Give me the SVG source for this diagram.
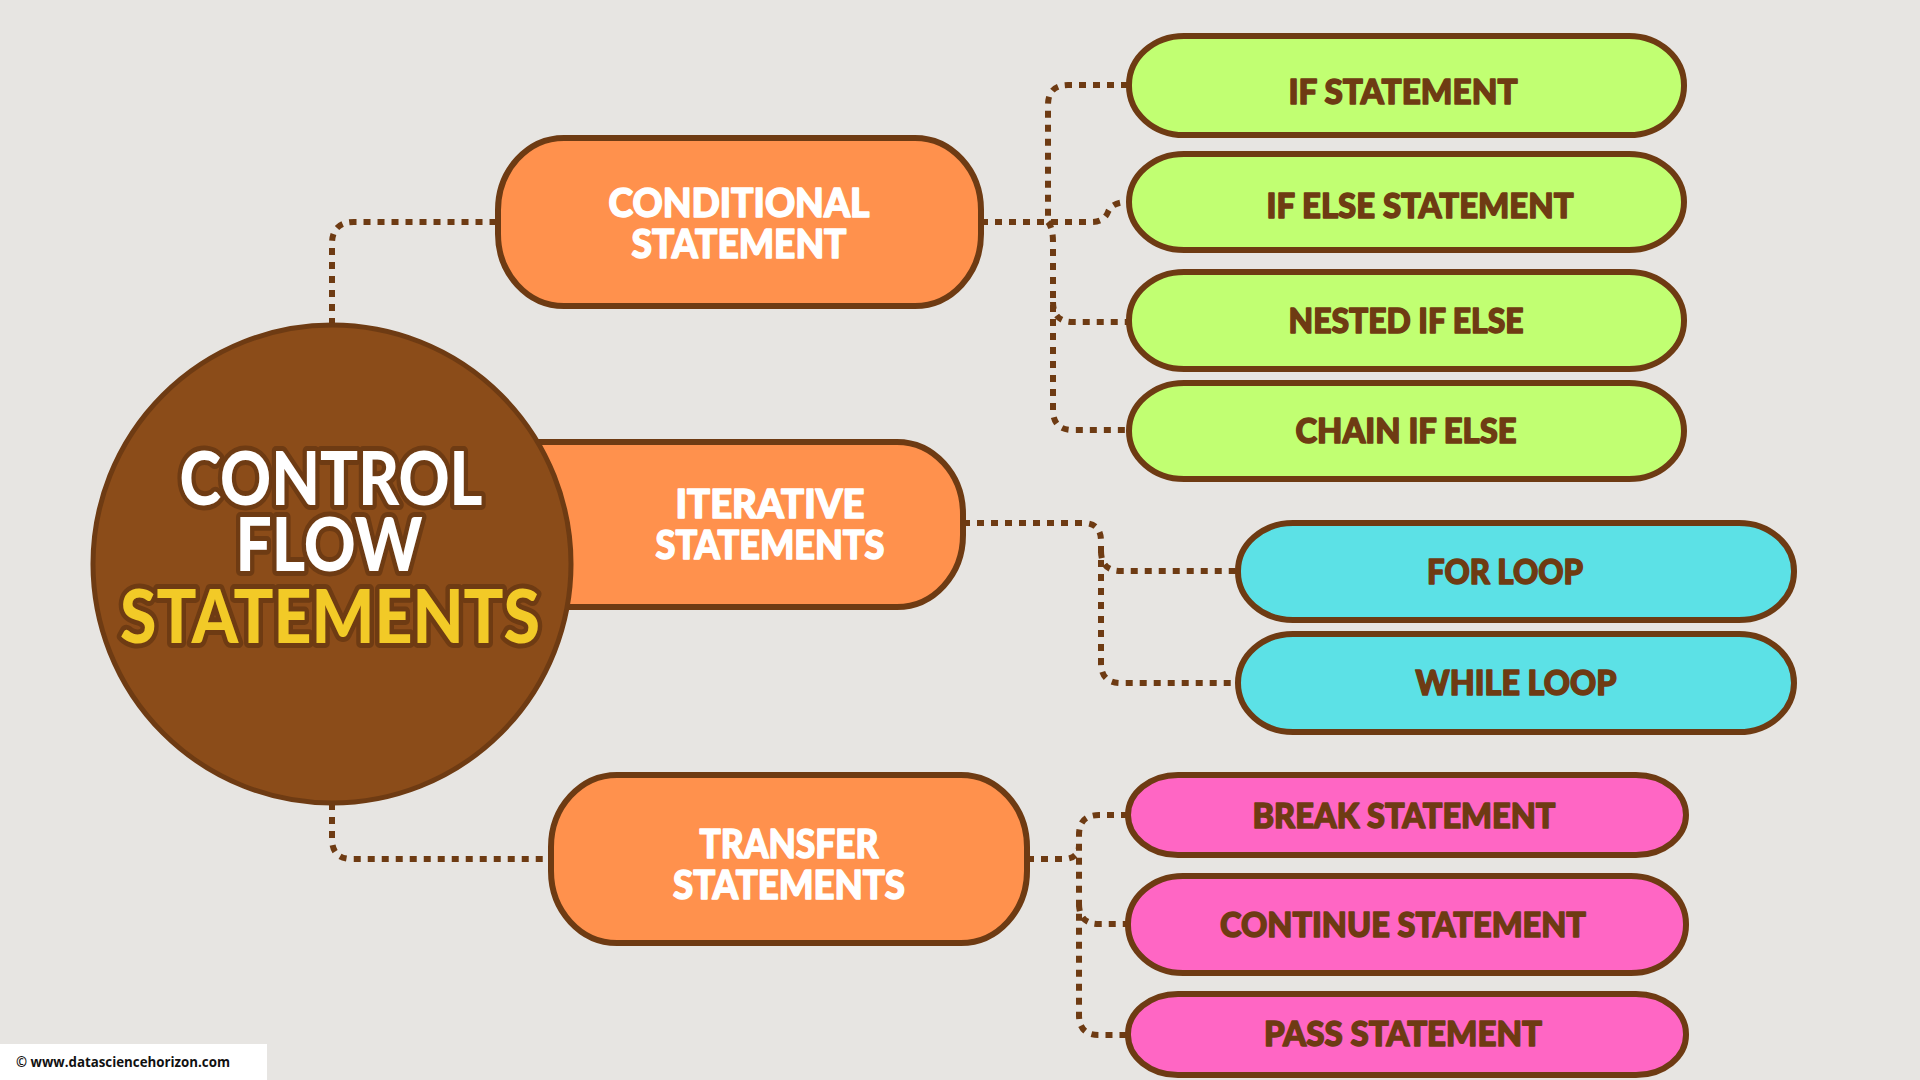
<svg xmlns="http://www.w3.org/2000/svg" width="1920" height="1080" viewBox="0 0 1920 1080">
<style>
.bg{fill:#E7E5E2}
.con{fill:none;stroke:#6E3B13;stroke-width:6;stroke-dasharray:7 7}
.box{stroke:#6E3B13;stroke-width:6}
.orange{fill:#FF914D}
.green{fill:#C1FF72}
.cyan{fill:#5CE1E6}
.pink{fill:#FF66C4}
.otxt{font-family:Lato,"Open Sans","Liberation Sans",sans-serif;font-weight:900;font-size:40px;fill:#FFFFFF;stroke:#FFFFFF;stroke-width:1.5;stroke-linejoin:round;text-anchor:middle}
.ltxt{font-family:Lato,"Open Sans","Liberation Sans",sans-serif;font-weight:900;font-size:35px;fill:#6E3B13;stroke:#6E3B13;stroke-width:1.5;stroke-linejoin:round;text-anchor:middle}
.ttl{font-family:Lato,"Open Sans","Liberation Sans",sans-serif;font-weight:900;font-size:74px;text-anchor:middle;stroke:#6E3B13;stroke-width:10;stroke-linejoin:round;paint-order:stroke}
</style>
<rect class="bg" x="0" y="0" width="1920" height="1080"/>
<g id="connectors">
<path class="con" d="M332,325 V244 Q332,222 354,222 H498"/>
<path class="con" d="M332,803 V839 Q332,859 352,859 H551"/>
<path class="con" d="M981,222 H1092 Q1104,222 1108,212 Q1112,202 1128,202"/>
<path class="con" d="M1128,85 H1068 Q1048,85 1048,105 V222"/>
<path class="con" d="M1048,222 Q1053,228 1053,242 V410 Q1053,430 1073,430 H1128"/>
<path class="con" d="M1053,302 Q1053,322 1073,322 H1128"/>
<path class="con" d="M963,523 H1083 Q1101,523 1101,541 V663 Q1101,683 1121,683 H1238"/>
<path class="con" d="M1101,551 Q1101,571 1121,571 H1238"/>
<path class="con" d="M1128,815 H1099 Q1079,815 1079,835 V1015 Q1079,1035 1099,1035 H1128"/>
<path class="con" d="M1027,859 H1063 Q1079,859 1079,845"/>
<path class="con" d="M1079,904 Q1079,924 1099,924 H1128"/>
</g>
<g id="n-conditional">
<rect class="box orange" x="498" y="138" width="483" height="168" rx="66" ry="72"/>
<text class="otxt" x="739" y="217" textLength="261" lengthAdjust="spacingAndGlyphs">CONDITIONAL</text>
<text class="otxt" x="739" y="258" textLength="215" lengthAdjust="spacingAndGlyphs">STATEMENT</text>
</g>
<g id="n-iterative">
<rect class="box orange" x="470" y="442" width="493" height="165" rx="66" ry="72"/>
<text class="otxt" x="770" y="518" textLength="189" lengthAdjust="spacingAndGlyphs">ITERATIVE</text>
<text class="otxt" x="770" y="559" textLength="229" lengthAdjust="spacingAndGlyphs">STATEMENTS</text>
</g>
<g id="n-transfer">
<rect class="box orange" x="551" y="775" width="476" height="168" rx="66" ry="72"/>
<text class="otxt" x="789" y="858" textLength="179" lengthAdjust="spacingAndGlyphs">TRANSFER</text>
<text class="otxt" x="789" y="899" textLength="232" lengthAdjust="spacingAndGlyphs">STATEMENTS</text>
</g>
<g id="n-root">
<circle cx="332" cy="564" r="239" fill="#8B4C19" stroke="#6E3B13" stroke-width="5"/>
<text class="ttl" x="331" y="505" fill="#FFFFFF" textLength="303" lengthAdjust="spacingAndGlyphs">CONTROL</text>
<text class="ttl" x="329" y="571" fill="#FFFFFF" textLength="187" lengthAdjust="spacingAndGlyphs">FLOW</text>
<text class="ttl" x="330" y="643" fill="#F2CA27" textLength="420" lengthAdjust="spacingAndGlyphs">STATEMENTS</text>
</g>
<g id="n-if">
<rect class="box green" x="1129" y="36" width="555" height="99" rx="55" ry="49"/>
<text class="ltxt" x="1403" y="104" textLength="229" lengthAdjust="spacingAndGlyphs">IF STATEMENT</text>
</g>
<g id="n-ifelse">
<rect class="box green" x="1129" y="154" width="555" height="96" rx="55" ry="48"/>
<text class="ltxt" x="1420" y="218" textLength="307" lengthAdjust="spacingAndGlyphs">IF ELSE STATEMENT</text>
</g>
<g id="n-nested">
<rect class="box green" x="1129" y="272" width="555" height="97" rx="55" ry="48"/>
<text class="ltxt" x="1406" y="333" textLength="235" lengthAdjust="spacingAndGlyphs">NESTED IF ELSE</text>
</g>
<g id="n-chain">
<rect class="box green" x="1129" y="383" width="555" height="96" rx="55" ry="48"/>
<text class="ltxt" x="1406" y="443" textLength="221" lengthAdjust="spacingAndGlyphs">CHAIN IF ELSE</text>
</g>
<g id="n-for">
<rect class="box cyan" x="1238" y="523" width="556" height="97" rx="55" ry="48"/>
<text class="ltxt" x="1505" y="584" textLength="156" lengthAdjust="spacingAndGlyphs">FOR LOOP</text>
</g>
<g id="n-while">
<rect class="box cyan" x="1238" y="634" width="556" height="98" rx="55" ry="49"/>
<text class="ltxt" x="1516" y="695" textLength="201" lengthAdjust="spacingAndGlyphs">WHILE LOOP</text>
</g>
<g id="n-break">
<rect class="box pink" x="1128" y="775" width="558" height="80" rx="50" ry="40"/>
<text class="ltxt" x="1404" y="828" textLength="303" lengthAdjust="spacingAndGlyphs">BREAK STATEMENT</text>
</g>
<g id="n-continue">
<rect class="box pink" x="1128" y="876" width="558" height="97" rx="55" ry="48"/>
<text class="ltxt" x="1403" y="937" textLength="366" lengthAdjust="spacingAndGlyphs">CONTINUE STATEMENT</text>
</g>
<g id="n-pass">
<rect class="box pink" x="1128" y="994" width="558" height="81" rx="50" ry="40"/>
<text class="ltxt" x="1403" y="1046" textLength="278" lengthAdjust="spacingAndGlyphs">PASS STATEMENT</text>
</g>
<g id="watermark">
<rect x="0" y="1044" width="267" height="36" fill="#FFFFFF"/>
<text x="16" y="1067" font-family="'Open Sans','Liberation Sans',sans-serif" font-weight="700" font-size="14" fill="#111111" textLength="214" lengthAdjust="spacingAndGlyphs">© www.datasciencehorizon.com</text>
</g>
</svg>
